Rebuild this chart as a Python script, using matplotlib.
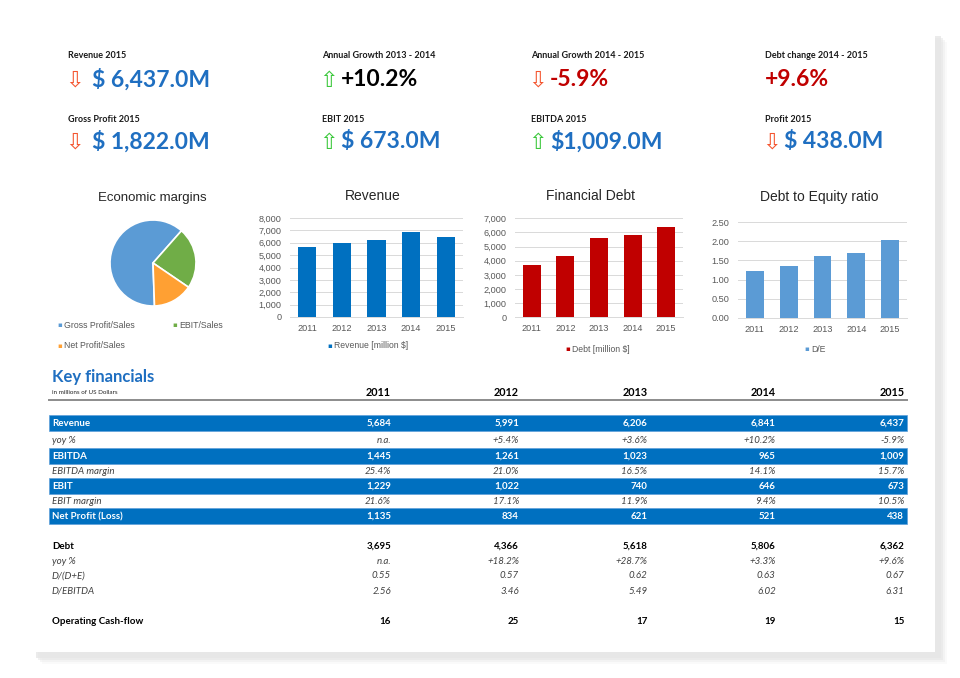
import matplotlib
matplotlib.use("Agg")
import matplotlib.pyplot as plt
from matplotlib.patches import Rectangle

# ---------------- data ----------------
years = ['2011', '2012', '2013', '2014', '2015']
revenue = [5684, 5991, 6206, 6841, 6437]
revenue_yoy = ['n.a.', '+5.4%', '+3.6%', '+10.2%', '-5.9%']
ebitda = [1445, 1261, 1023, 965, 1009]
ebitda_margin = [25.4, 21.0, 16.5, 14.1, 15.7]
ebit = [1229, 1022, 740, 646, 673]
ebit_margin = [21.6, 17.1, 11.9, 9.4, 10.5]
net_profit = [1135, 834, 621, 521, 438]
debt = [3695, 4366, 5618, 5806, 6362]
debt_yoy = ['n.a.', '+18.2%', '+28.7%', '+3.3%', '+9.6%']
d_over_de = [0.55, 0.57, 0.62, 0.63, 0.67]
d_over_ebitda = [2.56, 3.46, 5.49, 6.02, 6.31]
op_cashflow = [16, 25, 17, 19, 15]
de_ratio = [1.22, 1.35, 1.61, 1.70, 2.03]

margin_labels = ['Gross Profit/Sales', 'EBIT/Sales', 'Net Profit/Sales']
margin_values = [28.3, 10.5, 6.8]

kpi_labels = ['Revenue 2015', 'Annual Growth 2013 - 2014', 'Annual Growth 2014 - 2015', 'Debt change 2014 - 2015',
              'Gross Profit 2015', 'EBIT 2015', 'EBITDA 2015', 'Profit 2015']
kpi_values = ['$ 6,437.0M', '+10.2%', '-5.9%', '+9.6%',
              '$ 1,822.0M', '$ 673.0M', '$1,009.0M', '$ 438.0M']
kpi_arrows = ['down', 'up', 'down', None, 'down', 'up', 'up', 'down']

# ---------------- styles ----------------
W, H = 960, 678
BLUE_TXT = '#1F6FC1'
RED_TXT = '#C00000'
BAND = '#0070C0'
GREY_TXT = '#595959'
KPI_FONT = ['Lato', 'DejaVu Sans']
CHART_FONT = ['Liberation Sans', 'DejaVu Sans']

fig = plt.figure(figsize=(W / 100, H / 100), dpi=100)
fig.patch.set_facecolor('white')


def fx(x):
    return x / W


def fy(y):
    return 1 - y / H


def txt(x, y, s, **kw):
    kw.setdefault('family', KPI_FONT)
    return fig.text(fx(x), fy(y), s, **kw)


def px_axes(x0, y0, x1, y1, **kw):
    return fig.add_axes([fx(x0), fy(y1), (x1 - x0) / W, (y1 - y0) / H], **kw)


# ---------------- card with shadow ----------------
for off, a in [(12, 0.2), (10, 0.35), (8, 0.55), (6, 0.8)]:
    fig.patches.append(Rectangle((fx(30 + off), fy(652 + off)), (935 - 30) / W, (652 - 30) / H,
                                 transform=fig.transFigure, facecolor='#E6E6E6', alpha=a,
                                 edgecolor='none', zorder=-3))
fig.patches.append(Rectangle((fx(0), fy(652)), 935 / W, 652 / H, transform=fig.transFigure,
                             facecolor='white', edgecolor='none', zorder=-2))

# ---------------- KPIs ----------------
col_x = [68, 322, 531, 765]
label_y = [55, 119]
value_y = [80, 142]
for i, (lab, val, arr) in enumerate(zip(kpi_labels, kpi_values, kpi_arrows)):
    r, c = divmod(i, 4)
    x = col_x[c]
    txt(x, label_y[r], lab, fontsize=6.5, fontweight='bold', color='#1A1A1A', va='center')
    if val.startswith('+1'):
        vcol = '#000000'
    elif '%' in val:
        vcol = RED_TXT
    else:
        vcol = BLUE_TXT
    vx = x
    if arr is not None:
        glyph = '\u21e9' if arr == 'down' else '\u21e7'
        acol = '#F4552F' if arr == 'down' else '#3CC83C'
        txt(x - 3, value_y[r] + 1, glyph, fontsize=16, color=acol, va='center', family=['DejaVu Sans'])
        vx = x + (24 if c == 0 else 19)
    txt(vx, value_y[r], val, fontsize=16.5, fontweight='bold', color=vcol, va='center')

# ---------------- pie ----------------
pie_ax = px_axes(110, 220, 196, 306)
pie_colors = ['#5B9BD5', '#70AD47', '#FFA033']
wedges, _ = pie_ax.pie(margin_values, colors=pie_colors, startangle=-88, counterclock=False,
                       wedgeprops=dict(edgecolor='white', linewidth=1.2))
for w in wedges:
    w.set_clip_on(False)
pie_ax.set_xlim(-1, 1)
pie_ax.set_ylim(-1, 1)
pie_ax.set_aspect('equal')
txt(152, 198, 'Economic margins', fontsize=9.5, color='#262626', ha='center', va='center', family=CHART_FONT)
leg_pos = [(60, 325), (175, 325), (60, 346)]
for (lx, ly), lab, col in zip(leg_pos, margin_labels, pie_colors):
    txt(lx, ly, '\u25aa', fontsize=5, color=col, ha='center', va='center', family=['DejaVu Sans'])
    txt(lx + 4, ly, lab, fontsize=6.3, color=GREY_TXT, ha='left', va='center', family=CHART_FONT)


# ---------------- bar charts ----------------
def bar_chart(box, values, ymax, step, color, fmt, title, title_xy, legend, legend_xy):
    ax = px_axes(*box)
    xs = range(len(years))
    ax.bar(xs, values, width=0.53, color=color, zorder=3)
    ax.set_xlim(-0.5, len(years) - 0.5)
    ax.set_ylim(0, ymax)
    ticks = [k * step for k in range(int(round(ymax / step)) + 1)]
    ax.set_yticks(ticks)
    ax.set_yticklabels([fmt(t) for t in ticks])
    ax.set_xticks(list(xs))
    ax.set_xticklabels(years)
    ax.grid(axis='y', color='#D9D9D9', linewidth=0.7, zorder=0)
    for s in ['top', 'right', 'left']:
        ax.spines[s].set_visible(False)
    ax.spines['bottom'].set_color('#D9D9D9')
    ax.spines['bottom'].set_linewidth(0.7)
    ax.tick_params(length=0, labelsize=6.6, labelcolor=GREY_TXT, pad=5)
    ax.tick_params(axis='y', pad=6)
    for lab in ax.get_xticklabels() + ax.get_yticklabels():
        lab.set_family(CHART_FONT)
    ax.set_facecolor('none')
    txt(title_xy[0], title_xy[1], title, fontsize=10, color='#262626', ha='center', va='center', family=CHART_FONT)
    lx, ly = legend_xy
    txt(lx, ly, '\u25aa', fontsize=5, color=color, ha='center', va='center', family=['DejaVu Sans'])
    txt(lx + 4, ly, legend, fontsize=6.2, color=GREY_TXT, ha='left', va='center', family=CHART_FONT)
    return ax


bar_chart((290, 218, 463, 317), revenue, 8000, 1000, '#0070C0', lambda v: f'{v:,.0f}',
          'Revenue', (373, 196), 'Revenue [million $]', (330, 346))
bar_chart((515, 218.3, 683, 317.3), debt, 7000, 1000, '#C00000', lambda v: f'{v:,.0f}',
          'Financial Debt', (590, 196), 'Debt [million $]', (568, 349))
bar_chart((738, 222.3, 907, 317.7), de_ratio, 2.5, 0.5, '#5B9BD5', lambda v: f'{v:.2f}',
          'Debt to Equity ratio', (819, 197), 'D/E', (807, 349))

# ---------------- table ----------------
txt(52, 377, 'Key financials', fontsize=12, fontweight='bold', color=BLUE_TXT, va='center')
txt(52, 392, 'in millions of US Dollars', fontsize=4.5, color='#262626', va='center')
col_right = [391, 519, 647.5, 775.7, 904.3]
for xr, yr in zip(col_right, years):
    txt(xr, 392, yr, fontsize=7.8, fontweight='bold', color='#000000', ha='right', va='center')
fig.add_artist(plt.Line2D([fx(49), fx(907)], [fy(400), fy(400)], color='#8C8C8C', linewidth=1.4,
                          transform=fig.transFigure))


def fmt_int(v):
    return f'{v:,}'


def fmt_pct(v):
    return f'{v:.1f}%'


rows = [
    ('Revenue', [fmt_int(v) for v in revenue], 'band', 423),
    ('yoy %', revenue_yoy, 'italic', 440),
    ('EBITDA', [fmt_int(v) for v in ebitda], 'band', 456),
    ('EBITDA margin', [fmt_pct(v) for v in ebitda_margin], 'italic', 471),
    ('EBIT', [fmt_int(v) for v in ebit], 'band', 486),
    ('EBIT margin', [fmt_pct(v) for v in ebit_margin], 'italic', 501),
    ('Net Profit (Loss)', [fmt_int(v) for v in net_profit], 'band', 516),
    ('Debt', [fmt_int(v) for v in debt], 'bold', 546),
    ('yoy %', debt_yoy, 'italic', 560.5),
    ('D/(D+E)', [f'{v:.2f}' for v in d_over_de], 'italic', 575.5),
    ('D/EBITDA', [f'{v:.2f}' for v in d_over_ebitda], 'italic', 590.5),
    ('Operating Cash-flow', [fmt_int(v) for v in op_cashflow], 'bold', 620.5),
]
for label, vals, kind, y in rows:
    if kind == 'band':
        fig.patches.append(Rectangle((fx(49), fy(y + 7.6)), (907 - 49) / W, 15.2 / H,
                                     transform=fig.transFigure, facecolor=BAND,
                                     edgecolor='#5FA0DA', linewidth=0.5, zorder=1))
        kw = dict(fontweight='bold', color='white')
    elif kind == 'bold':
        kw = dict(fontweight='bold', color='#000000')
    else:
        kw = dict(style='italic', color='#404040')
    txt(52, y + 0.5, label, fontsize=7, va='center', zorder=3, **kw)
    for xr, v in zip(col_right, vals):
        txt(xr, y + 0.5, v, fontsize=7, ha='right', va='center', zorder=3, **kw)

fig.savefig('out.png', dpi=100, facecolor='white')
